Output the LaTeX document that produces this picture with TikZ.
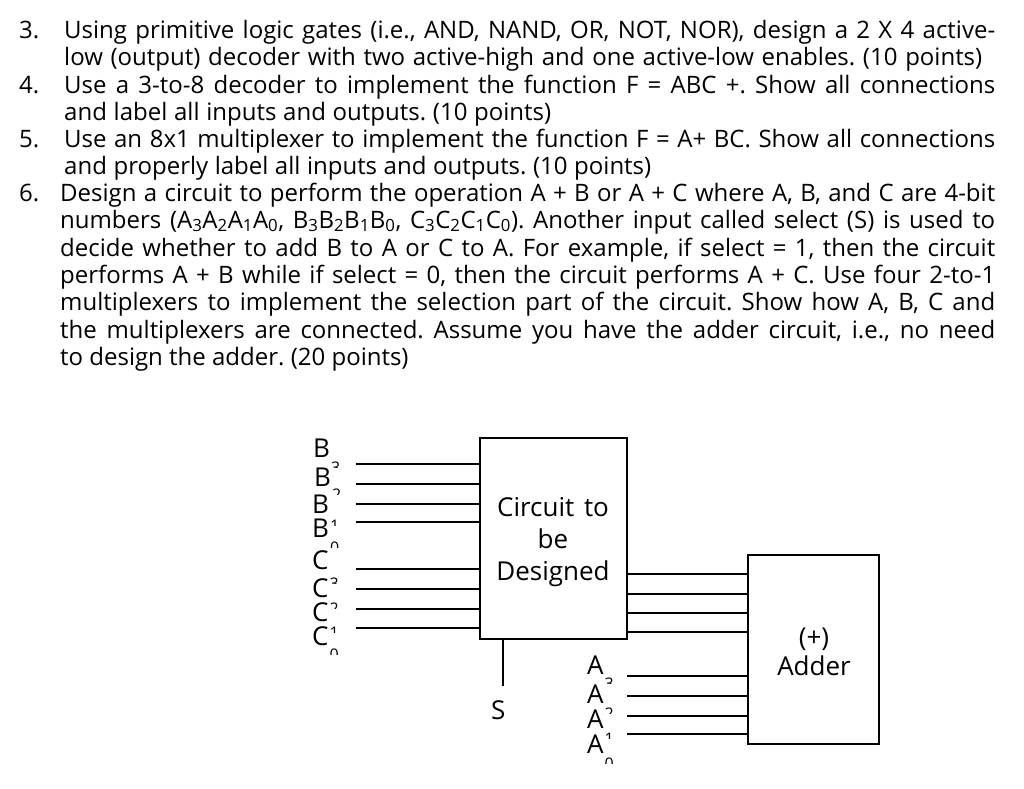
\documentclass[tikz,border=0pt]{standalone}
\usepackage{fontspec}
\setmainfont{Open Sans}
\usetikzlibrary{arrows.meta}
\frenchspacing
\newcommand{\fullline}[1]{\makebox[\linewd][s]{#1}}
\newlength{\linewd}
\tikzset{
	qtext/.style={anchor=base west, inner sep=0pt, font=\fontsize{24}{27}\selectfont},
	sigtext/.style={anchor=base west, inner sep=0pt, font=\fontsize{26}{30}\selectfont},
	block/.style={draw, line width=2.4pt, fill=white, inner sep=0pt, outer sep=0pt, anchor=north west},
	wire/.style={line width=2.2pt}
}
\begin{document}
\begin{tikzpicture}[x=1pt, y=-1pt]
\useasboundingbox (0,0) rectangle (1024,788);
% question text
\node[qtext] (n3) at (19,38) {3.};
\node[qtext] (n4) at (19,93) {4.};
\node[qtext] (n5) at (19,147) {5.};
\node[qtext] (n6) at (19,201) {6.};
\setlength{\linewd}{931pt}
\node[qtext] (l1) at (64,38) {\fullline{Using primitive logic gates (i.e., AND, NAND, OR, NOT, NOR), design a 2 X 4 active-}};
\setlength{\linewd}{918pt}
\node[qtext] (l2) at (64,65) {\fullline{low (output) decoder with two active-high and one active-low enables. (10 points)}};
\setlength{\linewd}{931pt}
\node[qtext] (l3) at (64,93) {\fullline{Use a 3-to-8 decoder to implement the function F = ABC +. Show all connections}};
\setlength{\linewd}{487pt}
\node[qtext] (l4) at (64,120) {\fullline{and label all inputs and outputs. (10 points)}};
\setlength{\linewd}{931pt}
\node[qtext] (l5) at (64,147) {\fullline{Use an 8x1 multiplexer to implement the function F = A+ BC. Show all connections}};
\setlength{\linewd}{587pt}
\node[qtext] (l6) at (64,174) {\fullline{and properly label all inputs and outputs. (10 points)}};
\setlength{\linewd}{935pt}
\node[qtext] (l7) at (60,201) {\fullline{Design a circuit to perform the operation A + B or A + C where A, B, and C are 4-bit}};
\node[qtext] (l8) at (60,228) {\fullline{numbers (A\textsubscript{3}A\textsubscript{2}A\textsubscript{1}A\textsubscript{0}, B\textsubscript{3}B\textsubscript{2}B\textsubscript{1}B\textsubscript{0}, C\textsubscript{3}C\textsubscript{2}C\textsubscript{1}C\textsubscript{0}). Another input called select (S) is used to}};
\node[qtext] (l9) at (60,256) {\fullline{decide whether to add B to A or C to A. For example, if select = 1, then the circuit}};
\node[qtext] (l10) at (60,283) {\fullline{performs A + B while if select = 0, then the circuit performs A + C. Use four 2-to-1}};
\node[qtext] (l11) at (60,310) {\fullline{multiplexers to implement the selection part of the circuit. Show how A, B, C and}};
\node[qtext] (l12) at (60,338) {\fullline{the multiplexers are connected. Assume you have the adder circuit, i.e., no need}};
\node[qtext] (l13) at (60,365) {to design the adder. (20 points)};
% blocks
\node[block, minimum width=147pt, minimum height=201pt] (circ) at (480,438) {};
\node[block, minimum width=131pt, minimum height=189pt] (adder) at (748,555) {};
\node[sigtext, anchor=base] (c1) at (553,516) {Circuit\hspace{3pt} to};
\node[sigtext, anchor=base] (c2) at (553,548) {be};
\node[sigtext, anchor=base] (c3) at (553,580) {Designed};
\node[sigtext, anchor=base] (a1) at (814,646) {(+)};
\node[sigtext, anchor=base] (a2) at (814,675) {Adder};
% input labels, each one cut off under its digit
\foreach \nm/\lt/\dg/\xx/\yy/\dd in {
	b3/B/3/313/457/4, b2/B/2/314/486/2, b1/B/1/312/513/6, b0/B/0/312/537/4,
	c3/C/3/312/569/8, c2/C/2/312/597/5, c1/C/1/312/621/5, c0/C/0/312/645/3,
	a3/A/3/587/674/3, a2/A/2/587/703/4, a1/A/1/587/728/4, a0/A/0/587/753/4}
{
	\pgfmathsetmacro{\dropd}{\dd+12}
	\begin{scope}
	\clip (\xx-5,\yy-26) rectangle (\xx+32,\yy+\dd+6);
	\node[sigtext] (lab\nm) at (\xx,\yy) {\lt\hspace{1pt}\smash{\raisebox{-\dropd pt}{\fontsize{16}{16}\selectfont\dg}}};
	\end{scope}
}
\node[sigtext] (sel) at (491,719) {S};
% wires
\foreach \nm/\yy in {b3/464, b2/484, b1/504, b0/522, c3/569, c2/589, c1/609, c0/628}
{
	\coordinate (in\nm) at (356,\yy);
	\draw[wire] (in\nm) -- (in\nm -| circ.west);
}
\foreach \nm/\yy in {a3/676, a2/696, a1/716, a0/734}
{
	\coordinate (in\nm) at (627,\yy);
	\draw[wire] (in\nm) -- (in\nm -| adder.west);
}
\foreach \nm/\yy in {s3/574, s2/594, s1/613, s0/632}
{
	\coordinate (out\nm) at (627,\yy);
	\draw[wire] (out\nm) -- (out\nm -| adder.west);
}
\coordinate (selend) at (503,686);
\draw[wire] (selend) -- (selend |- circ.south);
\end{tikzpicture}
\end{document}
